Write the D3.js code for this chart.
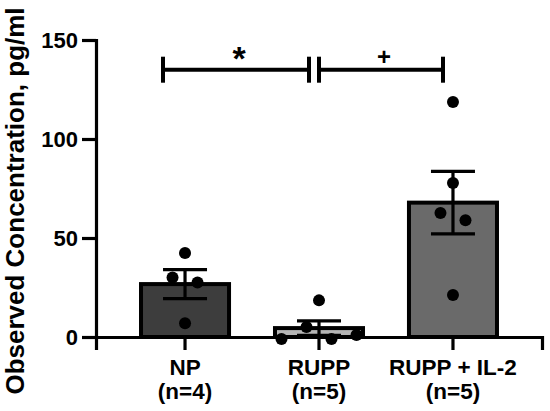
<!DOCTYPE html>
<html lang="en">

<head>
    <meta charset="UTF-8">
    <title>Observed Concentration</title>
    <script src="https://cdn.jsdelivr.net/npm/d3@7"></script>
    <style>
        body {
            margin: 0;
        }

        svg {
            background: #fff;
            font-family: "Liberation Sans", Arial, sans-serif;
            font-weight: bold;
        }
    </style>
</head>

<body>
    <script>
        'use strict';

        // data
        var groups = ['NP', 'RUPP', 'RUPP + IL-2'];
        var nLabels = ['(n=4)', '(n=5)', '(n=5)'];
        var npVals = [42.4, 30, 27.5, 7];
        var ruppVals = [18.5, -1, 5, -1, 1];
        var il2Vals = [118.7, 77.8, 62.6, 59, 21.2];
        var yTicks = [0, 50, 100, 150];
        var comparisons = [
            { from: 0, to: 1, label: '*', value: 135 },
            { from: 1, to: 2, label: '+', value: 135 }
        ];

        var barFills = ['#3d3d3d', '#b5b5b5', '#6a6a6a'];
        var allVals = [npVals, ruppVals, il2Vals];

        var w = 550,
            h = 411;

        var svg = d3.select('body')
            .append('svg')
            .attr('width', w)
            .attr('height', h);

        var x = d3.scaleBand()
            .domain(groups)
            .range([96, 542])
            .paddingInner(0.343)
            .paddingOuter(0.336);

        var y = d3.scaleLinear()
            .domain([0, 150])
            .range([337, 40]);

        // mean / SEM per group
        var stats = groups.map(function(g, i) {
            var v = allVals[i];
            var m = d3.mean(v);
            var sem = d3.deviation(v) / Math.sqrt(v.length);
            return { group: g, mean: m, sem: sem, vals: v, fill: barFills[i] };
        });

        // spread points that sit at about the same height side by side
        function spread(vals) {
            var order = vals.map(function(v, i) { return i; })
                .sort(function(a, b) { return vals[a] - vals[b]; });
            var clusters = [];
            order.forEach(function(i, k) {
                if (k > 0 && Math.abs(y(vals[i]) - y(vals[order[k - 1]])) < 20) {
                    clusters[clusters.length - 1].push(i);
                } else {
                    clusters.push([i]);
                }
            });
            var off = [];
            clusters.forEach(function(c) {
                c.sort(function(a, b) { return a - b; });
                c.forEach(function(i, k) {
                    off[i] = (k - (c.length - 1) / 2) * 25;
                });
            });
            return off;
        }

        var cx = function(g) { return x(g) + x.bandwidth() / 2; };

        // bars
        svg.append('g')
            .selectAll('rect')
            .data(stats)
            .enter()
            .append('rect')
            .attr('x', d => x(d.group))
            .attr('width', x.bandwidth())
            .attr('y', d => y(d.mean))
            .attr('height', d => y(0) - y(d.mean))
            .style('fill', d => d.fill)
            .style('stroke', '#000')
            .style('stroke-width', 4);

        // error bars
        var eb = svg.append('g')
            .selectAll('g')
            .data(stats)
            .enter()
            .append('g')
            .style('stroke', '#000')
            .style('stroke-width', 3.2);

        eb.append('line')
            .attr('x1', d => cx(d.group))
            .attr('x2', d => cx(d.group))
            .attr('y1', d => y(d.mean - d.sem))
            .attr('y2', d => y(d.mean + d.sem));

        [1, -1].forEach(function(s) {
            eb.append('line')
                .attr('x1', d => cx(d.group) - 22)
                .attr('x2', d => cx(d.group) + 22)
                .attr('y1', d => y(d.mean + s * d.sem))
                .attr('y2', d => y(d.mean + s * d.sem));
        });

        // x axis
        var axB = svg.append('g')
            .attr('transform', 'translate(0,' + y(0) + ')')
            .call(d3.axisBottom(x).tickSizeOuter(0).tickSize(13).tickFormat(''));
        axB.select('.domain').style('stroke-width', 3.2);
        axB.selectAll('.tick line').style('stroke-width', 3.2);

        var xl = svg.append('g')
            .selectAll('text')
            .data(groups)
            .enter()
            .append('text')
            .attr('text-anchor', 'middle')
            .style('font-size', '22.5px')
            .attr('x', d => cx(d));
        xl.append('tspan')
            .attr('x', d => cx(d))
            .attr('y', 375)
            .text(d => d);
        xl.append('tspan')
            .attr('x', d => cx(d))
            .attr('y', 399)
            .text((d, i) => nLabels[i]);

        // points
        stats.forEach(function(s) {
            var off = spread(s.vals);
            svg.append('g')
                .selectAll('circle')
                .data(s.vals)
                .enter()
                .append('circle')
                .attr('cx', (v, i) => cx(s.group) + off[i])
                .attr('cy', v => y(v))
                .attr('r', 6)
                .style('fill', '#000');
        });

        // y axis
        var axL = svg.append('g')
            .attr('transform', 'translate(96,0)')
            .call(d3.axisLeft(y).tickValues(yTicks).tickSize(14).tickSizeOuter(0).tickPadding(4));
        axL.select('.domain').style('stroke-width', 3.2).style('stroke-linecap', 'square');
        axL.selectAll('.tick line').style('stroke-width', 3.2);
        axL.selectAll('.tick text')
            .style('font-size', '22px')
            .style('font-family', '"Liberation Sans", Arial, sans-serif')
            .style('font-weight', 'bold')
            .style('fill', '#000');

        svg.append('text')
            .attr('transform', 'translate(24,' + 201 + ') rotate(-90)')
            .attr('text-anchor', 'middle')
            .style('font-size', '26px')
            .text('Observed Concentration, pg/ml');

        // significance brackets
        var br = svg.append('g')
            .selectAll('g')
            .data(comparisons)
            .enter()
            .append('g')
            .style('stroke', '#000')
            .style('stroke-width', 4);

        var bx1 = (d, i) => cx(groups[d.from]) - (i === 0 ? 22 : 0);
        var bx2 = d => cx(groups[d.to]) - 10;

        br.append('line')
            .attr('x1', bx1).attr('x2', bx2)
            .attr('y1', d => y(d.value)).attr('y2', d => y(d.value));
        br.append('line')
            .attr('x1', bx1).attr('x2', bx1)
            .attr('y1', d => y(d.value) - 13).attr('y2', d => y(d.value) + 13);
        br.append('line')
            .attr('x1', bx2).attr('x2', bx2)
            .attr('y1', d => y(d.value) - 13).attr('y2', d => y(d.value) + 13);

        svg.append('g')
            .selectAll('text')
            .data(comparisons)
            .enter()
            .append('text')
            .attr('text-anchor', 'middle')
            .attr('x', (d, i) => (bx1(d, i) + bx2(d)) / 2 + 3)
            .attr('y', d => y(d.value) - (d.label === '*' ? 0 : 5))
            .style('font-size', d => d.label === '*' ? '34px' : '24px')
            .style('font-weight', 'bold')
            .text(d => d.label);
    </script>
</body>

</html>
